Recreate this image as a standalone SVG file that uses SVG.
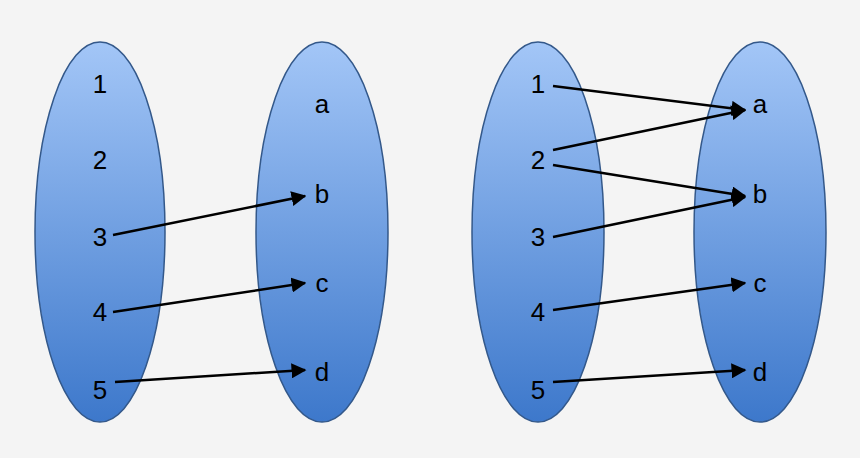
<svg xmlns="http://www.w3.org/2000/svg" width="860" height="458" viewBox="0 0 860 458">
<defs>
<linearGradient id="g" x1="0" y1="0" x2="0" y2="1">
<stop offset="0" stop-color="#a3c6f7"/><stop offset="1" stop-color="#3d78cb"/>
</linearGradient>
<marker id="ah" viewBox="0 0 10 10" refX="9" refY="5" markerWidth="6" markerHeight="6" orient="auto"><path d="M0,0 L10,5 L0,10 z" fill="#000"/></marker>
<style>
.e{fill:url(#g);stroke:#33588a;stroke-width:1.5}
.t{font-family:"Liberation Sans",Arial,sans-serif;font-size:26px;fill:#000;text-anchor:middle}
.c line{stroke:#000;stroke-width:2.5;marker-end:url(#ah)}
</style>
</defs>
<rect width="860" height="458" fill="#f4f4f4"/>
<g id="set1"><ellipse class="e" cx="100" cy="232" rx="65" ry="190"/>
<text class="t" x="100" y="93">1</text><text class="t" x="100" y="169">2</text><text class="t" x="100" y="246">3</text><text class="t" x="100" y="321">4</text><text class="t" x="100" y="399">5</text></g>
<g id="set2"><ellipse class="e" cx="322" cy="232" rx="66" ry="190"/>
<text class="t" x="322" y="113">a</text><text class="t" x="322" y="203">b</text><text class="t" x="322" y="292">c</text><text class="t" x="322" y="381">d</text></g>
<g id="set3"><ellipse class="e" cx="538" cy="232" rx="66" ry="190"/>
<text class="t" x="538" y="93">1</text><text class="t" x="538" y="169">2</text><text class="t" x="538" y="246">3</text><text class="t" x="538" y="321">4</text><text class="t" x="538" y="399">5</text></g>
<g id="set4"><ellipse class="e" cx="760" cy="232" rx="66" ry="190"/>
<text class="t" x="760" y="113">a</text><text class="t" x="760" y="203">b</text><text class="t" x="760" y="292">c</text><text class="t" x="760" y="381">d</text></g>
<g class="c" id="connectors">
<line x1="113" y1="235" x2="305" y2="196"/>
<line x1="113" y1="312" x2="305" y2="283"/>
<line x1="115" y1="382" x2="305" y2="370"/>
<line x1="553" y1="86" x2="745" y2="110"/>
<line x1="553" y1="150" x2="745" y2="110"/>
<line x1="553" y1="165" x2="745" y2="196"/>
<line x1="553" y1="237" x2="745" y2="197"/>
<line x1="553" y1="310" x2="745" y2="283"/>
<line x1="553" y1="382" x2="745" y2="370"/>
</g>
</svg>
